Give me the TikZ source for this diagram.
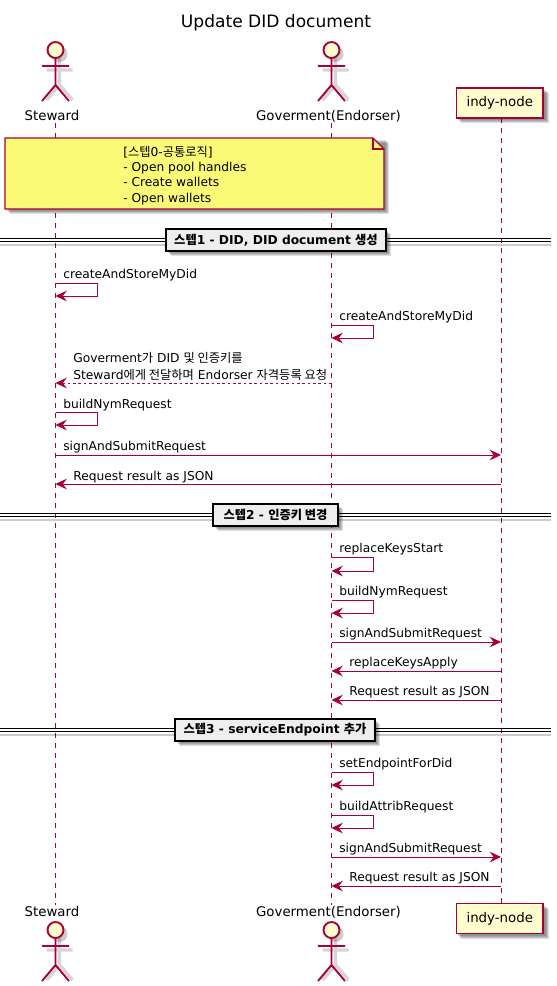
\documentclass[tikz,border=0pt]{standalone}
\usepackage{fontspec}
\setmainfont{DejaVu Sans}
\newfontfamily\cjk{Noto Sans CJK KR}
\usetikzlibrary{arrows.meta}
\definecolor{pu}{HTML}{A80036}
\definecolor{puFill}{HTML}{FEFECE}
\definecolor{noteFill}{HTML}{FBFB77}
\definecolor{divFill}{HTML}{EEEEEE}
\newcommand{\K}[1]{{\cjk #1}}
\newcommand{\softshadow}[1]{\foreach \d in {2,3,4,5}{\fill[black,opacity=.13,shift={(\d,\d)}] #1;}}
\tikzset{
  life/.style={draw=pu,line width=0.7pt,dash pattern=on 3.75pt off 3.75pt},
  msg/.style={draw=pu,line width=0.75pt,-{Stealth[length=8.5pt,width=8pt,inset=3pt]}},
  dmsg/.style={msg,dash pattern=on 2pt off 2pt},
  txt/.style={anchor=base west,inner sep=0pt,font=\fontsize{9.2pt}{11.8pt}\selectfont,align=left},
  actorlabel/.style={inner sep=0pt,font=\fontsize{10pt}{12pt}\selectfont},
  divbox/.style={draw=black,line width=1.5pt,fill=divFill,minimum height=16.5pt,inner sep=0pt,font=\fontsize{9.2pt}{11pt}\selectfont\bfseries},
  partbox/.style={draw=pu,line width=1pt,fill=puFill,inner sep=0pt,font=\fontsize{10pt}{12pt}\selectfont},
  limb/.style={draw=pu,line width=1.4pt},
  limbshadow/.style={draw=black,opacity=.16,line width=2.6pt},
  head/.style={circle,draw=pu,line width=1.4pt,fill=puFill,minimum size=12pt,inner sep=0pt}
}
% #1 name, #2 x, #3 y of the head centre
\newcommand{\actorfig}[3]{%
  \fill[black,opacity=.2] (#2+4,#3+4) circle (8);
  \draw[limbshadow] (#2+4,#3+8) -- (#2+4,#3+35) (#2-9,#3+20) -- (#2+17,#3+20) (#2+4,#3+35) -- (#2-9,#3+50) (#2+4,#3+35) -- (#2+17,#3+50);
  \draw[limb] (#2,#3+8) -- (#2,#3+35) (#2-13.5,#3+16) -- (#2+13.5,#3+16) (#2,#3+35) -- (#2-13.5,#3+51) (#2,#3+35) -- (#2+13.5,#3+51);
  \node[head] (#1) at (#2,#3) {};
}
\begin{document}
\begin{tikzpicture}[x=0.75pt,y=-0.75pt]
\useasboundingbox (0,0) rectangle (557,986);
\node[font=\fontsize{12.8pt}{16pt}\selectfont,inner sep=0pt] (title) at (276,23) {Update DID document};

% lifeline ends
\coordinate (sTop) at (55.5,123);
\coordinate (gTop) at (331.5,123);
\coordinate (nTop) at (501,118);
\coordinate (sBot) at (55.5,905);
\coordinate (gBot) at (331.5,905);
\coordinate (nBot) at (501,904);
\draw[life] (sTop) -- (sBot);
\draw[life] (gTop) -- (gBot);
\draw[life] (nTop) -- (nBot);

% participants
\actorfig{sHeadT}{55.5}{50}
\actorfig{gHeadT}{331.5}{50}
\actorfig{sHeadB}{55.5}{930}
\actorfig{gHeadB}{331.5}{930}
\node[actorlabel] (sLabT) at (52,116) {Steward};
\node[actorlabel] (gLabT) at (328.5,116) {Goverment(Endorser)};
\node[actorlabel] (sLabB) at (52,912) {Steward};
\node[actorlabel] (gLabB) at (328.5,912) {Goverment(Endorser)};
\softshadow{(456,88) rectangle (543.5,118)}
\softshadow{(456,903.5) rectangle (543.5,934)}
\node[partbox,minimum width=65pt,minimum height=22.5pt] (nT) at (499.75,103) {indy-node};
\node[partbox,minimum width=65pt,minimum height=22.5pt] (nB) at (499.75,918.75) {indy-node};

% note
\softshadow{(5,138) rectangle (384,209)}
\draw[pu,line width=0.8pt,fill=noteFill] (5,138) -- (373,138) -- (384,149) -- (384,209) -- (5,209) -- cycle;
\draw[pu,line width=0.8pt] (373,138) -- (373,149) -- (384,149);
\node[txt,anchor=north west,font=\fontsize{9.2pt}{11.4pt}\selectfont] (noteText) at (123,146) {[\K{스텝}0-\K{공통로직}]\\- Open pool handles\\- Create wallets\\- Open wallets};

% dividers
\foreach \ya/\xa/\xb/\nm/\lab in {240/166/386/d1/{\K{스텝}1 - DID, DID document \K{생성}},
                                  515/213/338/d2/{\K{스텝}2 - \K{인증키 변경}},
                                  730/175/375/d3/{\K{스텝}3 - serviceEndpoint \K{추가}}}{
  \fill[black,opacity=.2] (0,\ya+4) rectangle (551,\ya+5.5);
  \draw[black,line width=0.9pt] (0,\ya-1.7) -- (551,\ya-1.7) (0,\ya+1.7) -- (551,\ya+1.7);
  \softshadow{(\xa,\ya-11) rectangle (\xb,\ya+11)}
  \node[divbox,minimum width={(\xb-\xa)*0.75pt}] (\nm) at ({(\xa+\xb)/2},\ya) {\lab};
}

% messages
\coordinate (a1) at (55.5,283); \coordinate (a2) at (97,283); \coordinate (a3) at (97,296); \coordinate (a4) at (55.5,296);
\draw[msg] (a1) -- (a2) -- (a3) -- (a4);
\node[txt] (t1) at (63,278.5) {createAndStoreMyDid};

\coordinate (b1) at (331.5,325); \coordinate (b2) at (373,325); \coordinate (b3) at (373,338); \coordinate (b4) at (331.5,338);
\draw[msg] (b1) -- (b2) -- (b3) -- (b4);
\node[txt] (t2) at (339,320.5) {createAndStoreMyDid};

\coordinate (c1) at (331.5,383); \coordinate (c2) at (55.5,383);
\draw[dmsg] (c1) -- (c2);
\node[txt,font=\fontsize{9.2pt}{12.2pt}\selectfont] (t3) at (73,379) {Goverment\K{가} DID \K{및 인증키를}\\Steward\K{에게 전달하며} Endorser \K{자격등록 요청}};

\coordinate (e1) at (55.5,412); \coordinate (e2) at (97,412); \coordinate (e3) at (97,425); \coordinate (e4) at (55.5,425);
\draw[msg] (e1) -- (e2) -- (e3) -- (e4);
\node[txt] (t4) at (63,408) {buildNymRequest};

\coordinate (f1) at (55.5,455); \coordinate (f2) at (501,455);
\draw[msg] (f1) -- (f2);
\node[txt] (t5) at (63,450) {signAndSubmitRequest};

\coordinate (g1) at (501,484); \coordinate (g2) at (55.5,484);
\draw[msg] (g1) -- (g2);
\node[txt] (t6) at (73,480) {Request result as JSON};

\coordinate (h1) at (331.5,557); \coordinate (h2) at (373,557); \coordinate (h3) at (373,571); \coordinate (h4) at (331.5,571);
\draw[msg] (h1) -- (h2) -- (h3) -- (h4);
\node[txt] (t7) at (339,552.5) {replaceKeysStart};

\coordinate (i1) at (331.5,600); \coordinate (i2) at (373,600); \coordinate (i3) at (373,613); \coordinate (i4) at (331.5,613);
\draw[msg] (i1) -- (i2) -- (i3) -- (i4);
\node[txt] (t8) at (339,595) {buildNymRequest};

\coordinate (j1) at (331.5,642); \coordinate (j2) at (501,642);
\draw[msg] (j1) -- (j2);
\node[txt] (t9) at (339,637.5) {signAndSubmitRequest};

\coordinate (k1) at (501,671); \coordinate (k2) at (331.5,671);
\draw[msg] (k1) -- (k2);
\node[txt] (t10) at (349,666.5) {replaceKeysApply};

\coordinate (l1) at (501,700); \coordinate (l2) at (331.5,700);
\draw[msg] (l1) -- (l2);
\node[txt] (t11) at (349,695.5) {Request result as JSON};

\coordinate (m1) at (331.5,772); \coordinate (m2) at (373,772); \coordinate (m3) at (373,785); \coordinate (m4) at (331.5,785);
\draw[msg] (m1) -- (m2) -- (m3) -- (m4);
\node[txt] (t12) at (339,767.5) {setEndpointForDid};

\coordinate (o1) at (331.5,815); \coordinate (o2) at (373,815); \coordinate (o3) at (373,828); \coordinate (o4) at (331.5,828);
\draw[msg] (o1) -- (o2) -- (o3) -- (o4);
\node[txt] (t13) at (339,810) {buildAttribRequest};

\coordinate (p1) at (331.5,857); \coordinate (p2) at (501,857);
\draw[msg] (p1) -- (p2);
\node[txt] (t14) at (339,852.5) {signAndSubmitRequest};

\coordinate (q1) at (501,886); \coordinate (q2) at (331.5,886);
\draw[msg] (q1) -- (q2);
\node[txt] (t15) at (349,881.5) {Request result as JSON};
\end{tikzpicture}
\end{document}
